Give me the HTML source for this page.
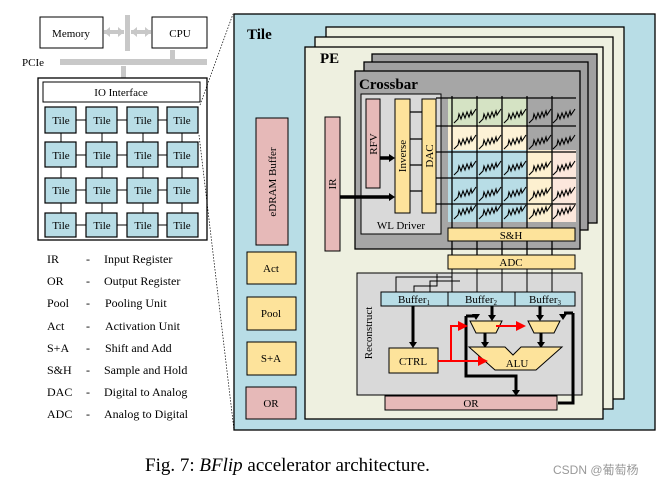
<!DOCTYPE html>
<html><head><meta charset="utf-8"><style>
body{margin:0;background:#fff;}
svg{display:block;font-family:"Liberation Serif",serif;}
</style></head><body>
<svg width="665" height="485" viewBox="0 0 665 485" xmlns="http://www.w3.org/2000/svg">
<defs>
<g id="r"><path d="M2,20 L6,16 L7,11 L9,16 L11,10 L13,15 L15,9 L17,14 L19,8 L20,12 L24,6" fill="none" stroke="#000" stroke-width="1.1"/></g>
<marker id="ab" markerWidth="4" markerHeight="4" refX="2" refY="2" orient="auto" markerUnits="strokeWidth"><path d="M0,0 L4,2 L0,4 z" fill="#000"/></marker>
<marker id="ar" markerWidth="5" markerHeight="5" refX="4" refY="2.5" orient="auto" markerUnits="strokeWidth"><path d="M0,0 L5,2.5 L0,5 z" fill="#f00"/></marker>
</defs>
<!-- host -->
<rect x="40" y="17" width="63" height="31" fill="#fff" stroke="#000"/>
<text x="71" y="37" font-size="11" text-anchor="middle">Memory</text>
<rect x="152" y="17" width="55" height="31" fill="#fff" stroke="#000"/>
<text x="180" y="37" font-size="11" text-anchor="middle">CPU</text>
<rect x="125" y="15" width="5" height="36" fill="#c8c8c8"/>
<path d="M104,32 L124,32 M131,32 L151,32" stroke="#c8c8c8" stroke-width="4"/>
<path d="M104,32 l6,-5 v10z M124,32 l-6,-5 v10z M131,32 l6,-5 v10z M151,32 l-6,-5 v10z" fill="#c8c8c8"/>
<rect x="60" y="59" width="147" height="6" fill="#c8c8c8"/>
<text x="22" y="66" font-size="11">PCIe</text>
<rect x="170" y="50" width="5" height="9" fill="#c8c8c8"/>
<rect x="121" y="66" width="5" height="12" fill="#c8c8c8"/>
<rect x="38" y="78" width="169" height="162" fill="#fff" stroke="#000" stroke-width="1.3"/>
<rect x="43" y="82" width="157" height="20" fill="#fff" stroke="#000"/>
<text x="121" y="96" font-size="11" text-anchor="middle">IO Interface</text>
<g stroke="#000" stroke-width="1">
<path d="M60,120 H183 M60,155 H183 M60,190 H183 M60,225 H183 M61,120 V225 M102,120 V225 M143,120 V225 M182,120 V225"/>
</g>
<g fill="#b8dde6" stroke="#000" stroke-width="1.2">
<rect x="45" y="107" width="31" height="26"/><rect x="86" y="107" width="31" height="26"/><rect x="127" y="107" width="31" height="26"/><rect x="167" y="107" width="31" height="26"/>
<rect x="45" y="142" width="31" height="25"/><rect x="86" y="142" width="31" height="25"/><rect x="127" y="142" width="31" height="25"/><rect x="167" y="142" width="31" height="25"/>
<rect x="45" y="178" width="31" height="25"/><rect x="86" y="178" width="31" height="25"/><rect x="127" y="178" width="31" height="25"/><rect x="167" y="178" width="31" height="25"/>
<rect x="45" y="213" width="31" height="24"/><rect x="86" y="213" width="31" height="24"/><rect x="127" y="213" width="31" height="24"/><rect x="167" y="213" width="31" height="24"/>
</g>
<g font-size="11" text-anchor="middle">
<text x="61" y="124">Tile</text><text x="102" y="124">Tile</text><text x="143" y="124">Tile</text><text x="182" y="124">Tile</text>
<text x="61" y="159">Tile</text><text x="102" y="159">Tile</text><text x="143" y="159">Tile</text><text x="182" y="159">Tile</text>
<text x="61" y="194">Tile</text><text x="102" y="194">Tile</text><text x="143" y="194">Tile</text><text x="182" y="194">Tile</text>
<text x="61" y="229">Tile</text><text x="102" y="229">Tile</text><text x="143" y="229">Tile</text><text x="182" y="229">Tile</text>
</g>
<path d="M200,105 L233,14 M199,135 L234,430" stroke="#000" stroke-width="0.7" stroke-dasharray="1.5,1.5" fill="none"/>
<!-- legend -->
<g font-size="12">
<text x="47" y="263">IR</text><text x="86" y="263">-</text><text x="104" y="263">Input Register</text>
<text x="47" y="285">OR</text><text x="86" y="285">-</text><text x="104" y="285">Output Register</text>
<text x="47" y="307">Pool</text><text x="86" y="307">-</text><text x="105" y="307">Pooling Unit</text>
<text x="47" y="330">Act</text><text x="86" y="330">-</text><text x="105" y="330">Activation Unit</text>
<text x="47" y="352">S+A</text><text x="86" y="352">-</text><text x="105" y="352">Shift and Add</text>
<text x="47" y="374">S&amp;H</text><text x="86" y="374">-</text><text x="104" y="374">Sample and Hold</text>
<text x="47" y="396">DAC</text><text x="86" y="396">-</text><text x="104" y="396">Digital to Analog</text>
<text x="47" y="418">ADC</text><text x="86" y="418">-</text><text x="104" y="418">Analog to Digital</text>
</g>
<!-- Tile -->
<rect x="234" y="14" width="421" height="416" fill="#b8dde6" stroke="#000" stroke-width="1.3"/>
<text x="247" y="39" font-size="15" font-weight="bold">Tile</text>
<rect x="326" y="27" width="298" height="372" fill="#eef0e0" stroke="#000" stroke-width="1.3"/>
<rect x="315" y="37" width="298" height="372" fill="#eef0e0" stroke="#000" stroke-width="1.3"/>
<rect x="305" y="47" width="298" height="372" fill="#eef0e0" stroke="#000" stroke-width="1.3"/>
<text x="320" y="63" font-size="15" font-weight="bold">PE</text>
<rect x="256" y="118" width="32" height="127" fill="#e6b9b8" stroke="#000"/>
<text transform="translate(276,182) rotate(-90)" font-size="11" text-anchor="middle">eDRAM Buffer</text>
<rect x="247" y="252" width="49" height="32" fill="#fde39b" stroke="#000"/><text x="271" y="272" font-size="11" text-anchor="middle">Act</text>
<rect x="247" y="297" width="49" height="33" fill="#fde39b" stroke="#000"/><text x="271" y="317" font-size="11" text-anchor="middle">Pool</text>
<rect x="247" y="342" width="49" height="33" fill="#fde39b" stroke="#000"/><text x="271" y="362" font-size="11" text-anchor="middle">S+A</text>
<rect x="246" y="387" width="50" height="32" fill="#e6b9b8" stroke="#000"/><text x="271" y="407" font-size="11" text-anchor="middle">OR</text>
<!-- crossbar stack -->
<rect x="372" y="54" width="225" height="169" fill="#a0a0a0" stroke="#000" stroke-width="1.3"/>
<rect x="364" y="62" width="224" height="168" fill="#a0a0a0" stroke="#000" stroke-width="1.3"/>
<rect x="355" y="71" width="225" height="178" fill="#a6a6a6" stroke="#000" stroke-width="1.3"/>
<text x="359" y="89" font-size="15" font-weight="bold">Crossbar</text>
<rect x="361" y="94" width="80" height="140" fill="#d9d9d9" stroke="#000"/>
<text x="401" y="229" font-size="11" text-anchor="middle">WL Driver</text>
<!-- grid cells -->
<g>
<rect x="448" y="98" width="79" height="27" fill="#d5e3c4"/>
<rect x="448" y="125" width="79" height="25" fill="#fdf2d6"/>
<rect x="448" y="150" width="79" height="72" fill="#b8dde6"/>
<rect x="527" y="150" width="25" height="72" fill="#fdf0d0"/>
<rect x="552" y="150" width="24" height="72" fill="#fce7dc"/>
</g>
<g stroke="#000" stroke-width="1.3" fill="none">
<path d="M436,98 H576 M436,126 H576 M436,152 H576 M436,178 H576 M436,204 H576"/>
<path d="M410,112 H422 M410,139 H422 M410,165 H422 M410,191 H422"/>
<path d="M452,96 V255 M477,96 V255 M502,96 V255 M527,96 V255 M552,96 V255"/>
</g>
<g>
<use href="#r" x="452" y="103"/><use href="#r" x="477" y="103"/><use href="#r" x="502" y="103"/><use href="#r" x="527" y="103"/><use href="#r" x="551" y="103"/>
<use href="#r" x="452" y="129"/><use href="#r" x="477" y="129"/><use href="#r" x="502" y="129"/><use href="#r" x="527" y="129"/><use href="#r" x="551" y="129"/>
<use href="#r" x="452" y="155"/><use href="#r" x="477" y="155"/><use href="#r" x="502" y="155"/><use href="#r" x="527" y="155"/><use href="#r" x="551" y="155"/>
<use href="#r" x="452" y="181"/><use href="#r" x="477" y="181"/><use href="#r" x="502" y="181"/><use href="#r" x="527" y="181"/><use href="#r" x="551" y="181"/>
<use href="#r" x="452" y="199"/><use href="#r" x="477" y="199"/><use href="#r" x="502" y="199"/><use href="#r" x="527" y="199"/><use href="#r" x="551" y="199"/>
</g>
<rect x="366" y="99" width="14" height="89" fill="#e6b9b8" stroke="#000"/>
<text transform="translate(377,144) rotate(-90)" font-size="11" text-anchor="middle">RFV</text>
<rect x="395" y="99" width="15" height="114" fill="#fde39b" stroke="#000"/>
<text transform="translate(406,156) rotate(-90)" font-size="11" text-anchor="middle">Inverse</text>
<rect x="422" y="99" width="14" height="114" fill="#fde39b" stroke="#000"/>
<text transform="translate(433,156) rotate(-90)" font-size="11" text-anchor="middle">DAC</text>
<rect x="325" y="117" width="15" height="134" fill="#e6b9b8" stroke="#000"/>
<text transform="translate(336,184) rotate(-90)" font-size="11" text-anchor="middle">IR</text>
<path d="M340,197 H390" stroke="#000" stroke-width="3.5"/><path d="M395,197 l-6,-4 v8z" fill="#000"/>
<path d="M380,158 H390" stroke="#000" stroke-width="3.5"/><path d="M395,158 l-6,-4 v8z" fill="#000"/>
<rect x="448" y="228" width="127" height="13" fill="#fde39b" stroke="#000"/>
<text x="511" y="239" font-size="11" text-anchor="middle">S&amp;H</text>
<rect x="448" y="255" width="127" height="14" fill="#fde39b" stroke="#000"/>
<text x="511" y="266" font-size="11" text-anchor="middle">ADC</text>
<!-- reconstruct -->
<rect x="357" y="273" width="225" height="122" fill="#d9d9d9" stroke="#000"/>
<text transform="translate(372,333) rotate(-90)" font-size="11" text-anchor="middle">Reconstruct</text>
<g stroke="#000" stroke-width="1" fill="none">
<path d="M452,269 V292 M477,269 V292 M502,269 V292 M527,269 V292 M552,269 V292"/>
<path d="M452,277 H396 V292 M437,274 V286 H414 V292 M460,281 H430 V292"/>
</g>
<rect x="381" y="292" width="67" height="14" fill="#b8dde6" stroke="#000"/>
<rect x="448" y="292" width="67" height="14" fill="#b8dde6" stroke="#000"/>
<rect x="515" y="292" width="60" height="14" fill="#b8dde6" stroke="#000"/>
<text x="414" y="303" font-size="11" text-anchor="middle">Buffer<tspan font-size="7" dy="2">1</tspan></text>
<text x="481" y="303" font-size="11" text-anchor="middle">Buffer<tspan font-size="7" dy="2">2</tspan></text>
<text x="545" y="303" font-size="11" text-anchor="middle">Buffer<tspan font-size="7" dy="2">3</tspan></text>
<rect x="389" y="348" width="49" height="25" fill="#fde39b" stroke="#000"/>
<text x="413" y="365" font-size="11" text-anchor="middle">CTRL</text>
<g stroke="#000" stroke-width="3" fill="none">
<path d="M413,306 V343"/>
<path d="M492,306 V316 M540,306 V316"/>
<path d="M466,316 V376 H516 V393"/>
<path d="M573,313 V403 H558"/>
<path d="M466,316 H474 M564,313 H573"/>
<path d="M485,333 V345 M541,333 V345"/>
</g>
<path d="M413,348 l-4,-6 h8z M492,321 l-4,-6 h8z M540,321 l-4,-6 h8z M476,320 l-4,-6 h8z M563,320 l-4,-6 h8z M516,396 l-4,-6 h8z M485,348 l-4,-6 h8z M541,348 l-4,-6 h8z" fill="#000"/>
<path d="M470,321 H502 L496,333 H476 Z" fill="#fde39b" stroke="#000"/>
<path d="M528,321 H560 L554,333 H534 Z" fill="#fde39b" stroke="#000"/>
<path d="M469,347 H505 L513,355 L521,347 H562 L536,370 H495 Z" fill="#fde39b" stroke="#000"/>
<text x="517" y="367" font-size="11" text-anchor="middle">ALU</text>
<g stroke="#f00" stroke-width="2" fill="none">
<path d="M438,361 H486" marker-end="url(#ar)"/>
<path d="M451,361 V326 H466" marker-end="url(#ar)"/>
<path d="M496,326 H524" marker-end="url(#ar)"/>
</g>
<rect x="385" y="396" width="172" height="14" fill="#e6b9b8" stroke="#000"/>
<text x="471" y="407" font-size="11" text-anchor="middle">OR</text>
<!-- caption -->
<text x="145" y="471" font-size="19">Fig. 7: <tspan font-style="italic">BFlip</tspan> accelerator architecture.</text>
<text x="553" y="474" font-size="12" fill="#999" font-family="Liberation Sans, Noto Sans CJK SC, sans-serif">CSDN @葡萄杨</text>
</svg>
</body></html>
